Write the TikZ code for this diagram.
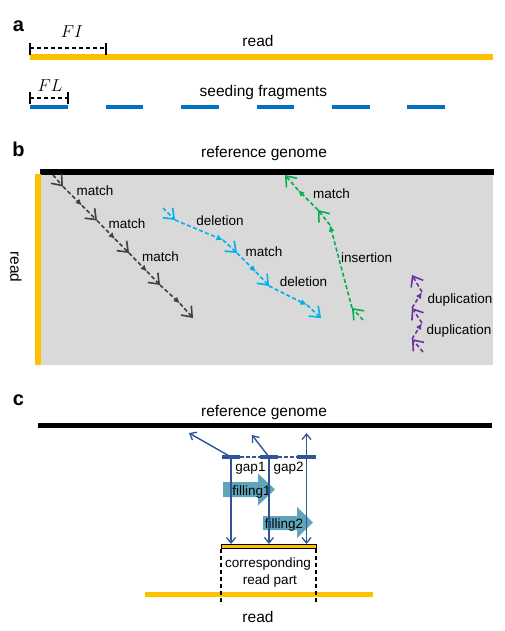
\documentclass[tikz,border=0pt]{standalone}
\usepackage{fontspec}
\setmainfont{Liberation Sans}
\usetikzlibrary{arrows.meta}
\definecolor{ylw}{HTML}{FFC000}
\definecolor{fragblue}{HTML}{0070C0}
\definecolor{bggray}{HTML}{D9D9D9}
\definecolor{dkg}{HTML}{404040}
\definecolor{ltblue}{HTML}{00B0F0}
\definecolor{grn}{HTML}{00B050}
\definecolor{prp}{HTML}{7030A0}
\definecolor{seedblue}{HTML}{2F5597}
\definecolor{fillteal}{RGB}{95,165,185}
\tikzset{
  big/.style={font=\fontsize{15.5}{18}\selectfont, inner sep=0pt, anchor=base},
  sml/.style={font=\fontsize{13.5}{16}\selectfont, inner sep=0pt, anchor=base},
  panel/.style={font=\fontsize{20}{24}\selectfont\bfseries, inner sep=0pt, anchor=base},
  mth/.style={font=\fontsize{18}{20}\selectfont, inner sep=0pt, anchor=base},
  bigV/.tip={Straight Barb[length=9pt,width=14pt,line width=1.6pt]},
  smallT/.tip={Latex[length=6.5pt,width=6pt]},
  smallV/.tip={Straight Barb[length=5.5pt,width=9pt,line width=1.3pt]},
  chainline/.style={line width=1.6pt, dash pattern=on 4pt off 2.5pt},
  tick/.style={line width=1.5pt},
  dimline/.style={line width=1.3pt, dash pattern=on 4pt off 3pt},
  carrow/.style={seedblue, line width=1.4pt, -smallV},
}
\begin{document}
\begin{tikzpicture}[x=1pt,y=-1pt]
\useasboundingbox (0,0) rectangle (504,631);
% ---------- panel a ----------
\node[panel] (la) at (18.5,32) {a};
\draw[ylw, line width=5.5pt] (30,57) -- (493,57);
\coordinate (fi0) at (30,48); \coordinate (fi1) at (106,48);
\draw[dimline] (fi0) -- (fi1);
\draw[tick] (30,43) -- (30,55); \draw[tick] (106,43) -- (106,55);
\node[mth] (tfi) at (72,38) {$FI$};
\node[big] (tread) at (258,47) {read};
\coordinate (fl0) at (30,98); \coordinate (fl1) at (68,98);
\draw[dimline] (fl0) -- (fl1);
\draw[tick] (30,92) -- (30,104); \draw[tick] (68,92) -- (68,104);
\node[mth] (tfl) at (50,92) {$FL$};
\node[big] (tseed) at (263.5,96.5) {seeding fragments};
\foreach \a/\b in {30/68,106/143,181/219,257/294,332/370,407/445}
  \draw[fragblue, line width=4.5pt] (\a,107) -- (\b,107);
% ---------- panel b ----------
\node[panel] (lb) at (18.5,157) {b};
\node[big] (trefb) at (264,158) {reference genome};
\fill[bggray] (40,174.5) rectangle (493,365);
\draw[black, line width=5.5pt] (40,172) -- (493.5,172);
\draw[ylw, line width=6pt] (37.5,174.5) -- (37.5,365);
\node[big, rotate=-90, anchor=center] (treadb) at (16,267) {read};
% dark chain
\coordinate (k0) at (53,175);
\coordinate (k1) at (63,186.5);
\coordinate (k2) at (82,205.5);
\coordinate (k3) at (97,220.5);
\coordinate (k4) at (115,239);
\coordinate (k5) at (129,253);
\coordinate (k6) at (147,271.5);
\coordinate (k7) at (160,285);
\coordinate (k8) at (180,303.5);
\coordinate (k9) at (193,318);
\begin{scope}[dkg, chainline]
\draw[-bigV] (k0) -- (k1);
\draw[-smallT] (k1) -- (k2);
\draw[-bigV] (k2) -- (k3);
\draw[-smallT] (k3) -- (k4);
\draw[-bigV] (k4) -- (k5);
\draw[-smallT] (k5) -- (k6);
\draw[-bigV] (k6) -- (k7);
\draw[-smallT] (k7) -- (k8);
\draw[-bigV] (k8) -- (k9);
\end{scope}
\node[sml] (m1) at (95,195) {match};
\node[sml] (m2) at (127,228.3) {match};
\node[sml] (m3) at (160.5,261.7) {match};
% blue chain
\coordinate (b0) at (163,208);
\coordinate (b1) at (175,220);
\coordinate (b2) at (223,240);
\coordinate (b3) at (237,253);
\coordinate (b4) at (256,272);
\coordinate (b5) at (269,286);
\coordinate (b6) at (307,305);
\coordinate (b7) at (321,318);
\begin{scope}[ltblue, chainline]
\draw[-bigV] (b0) -- (b1);
\draw[-smallT] (b1) -- (b2);
\draw[-bigV] (b2) -- (b3);
\draw[-smallT] (b3) -- (b4);
\draw[-bigV] (b4) -- (b5);
\draw[-smallT] (b5) -- (b6);
\draw[-bigV] (b6) -- (b7);
\end{scope}
\node[sml] (d1) at (220,225) {deletion};
\node[sml] (m4) at (264,256.7) {match};
\node[sml] (d2) at (303.5,286) {deletion};
% green chain
\coordinate (g0) at (363,320);
\coordinate (g1) at (352,308);
\coordinate (g2) at (330,225);
\coordinate (g3) at (318,210);
\coordinate (g4) at (298,190);
\coordinate (g5) at (285,175);
\begin{scope}[grn, chainline]
\draw[-bigV] (g0) -- (g1);
\draw[-smallT] (g1) -- (g2);
\draw[-bigV] (g2) -- (g3);
\draw[-smallT] (g3) -- (g4);
\draw[-bigV] (g4) -- (g5);
\end{scope}
\node[sml] (m5) at (331.5,198.3) {match};
\node[sml] (ins) at (366.7,262.7) {insertion};
% purple chain
\coordinate (p0) at (423,352);
\coordinate (p1) at (412,339);
\coordinate (p2) at (422,323);
\coordinate (p3) at (412,308);
\coordinate (p4) at (422,292);
\coordinate (p5) at (412,275);
\begin{scope}[prp, chainline]
\draw[-bigV] (p0) -- (p1);
\draw[-smallT] (p1) -- (p2);
\draw[-bigV] (p2) -- (p3);
\draw[-smallT] (p3) -- (p4);
\draw[-bigV] (p4) -- (p5);
\end{scope}
\node[sml] (dup1) at (460,303.3) {duplication};
\node[sml] (dup2) at (459,334) {duplication};
% ---------- panel c ----------
\node[panel] (lc) at (18.5,405) {c};
\node[big] (trefc) at (264,416.7) {reference genome};
\draw[black, line width=5pt] (38,425) -- (492,425);
% filling arrows
\fill[fillteal] (223,482) -- (258,482) -- (258,473.5) -- (275,489.5) -- (258,505.5) -- (258,497) -- (223,497) -- cycle;
\fill[fillteal] (263,516) -- (297,516) -- (297,507) -- (313,522.5) -- (297,538) -- (297,530) -- (263,530) -- cycle;
\node[sml] (fill1) at (251.5,495.5) {filling1};
\node[sml] (fill2) at (284,528) {filling2};
% seeds
\draw[seedblue, line width=4.5pt] (222,457) -- (240,457);
\draw[seedblue, line width=4.5pt] (260,457) -- (278,457);
\draw[seedblue, line width=4.5pt] (297,457) -- (316,457);
\draw[seedblue, line width=1.2pt, dash pattern=on 3.5pt off 2.5pt] (240,457) -- (260,457);
\draw[seedblue, line width=1.2pt, dash pattern=on 3.5pt off 2.5pt] (278,457) -- (297,457);
\node[sml] (gap1) at (250.5,471.5) {gap1};
\node[sml] (gap2) at (288.7,471.5) {gap2};
\coordinate (s1) at (231,457); \coordinate (s2) at (269,457); \coordinate (s3) at (306.5,457);
\coordinate (u1) at (189,433); \coordinate (u2) at (252,435); \coordinate (u3) at (306.5,433);
\coordinate (e1) at (231,544); \coordinate (e2) at (269,544); \coordinate (e3) at (306.5,544);
\draw[carrow] (s1) -- (u1);
\draw[carrow] (s2) -- (u2);
\draw[carrow] (s3) -- (u3);
\draw[carrow] (s1) -- (e1);
\draw[carrow] (s2) -- (e2);
\draw[carrow] (s3) -- (e3);
% read part
\draw[ylw, line width=5pt] (145,594.5) -- (373,594.5);
\draw[fill=ylw, line width=1pt] (221,544) rectangle (316,548.5);
\draw[line width=1.1pt, dash pattern=on 4pt off 3pt] (221,548.5) -- (221,602);
\draw[line width=1.1pt, dash pattern=on 4pt off 3pt] (316,548.5) -- (316,602);
\node[sml] (corr) at (268,567.3) {corresponding};
\node[sml] (rpart) at (270,584.3) {read part};
\node[big] (treadc) at (258,622.7) {read};
\end{tikzpicture}
\end{document}
